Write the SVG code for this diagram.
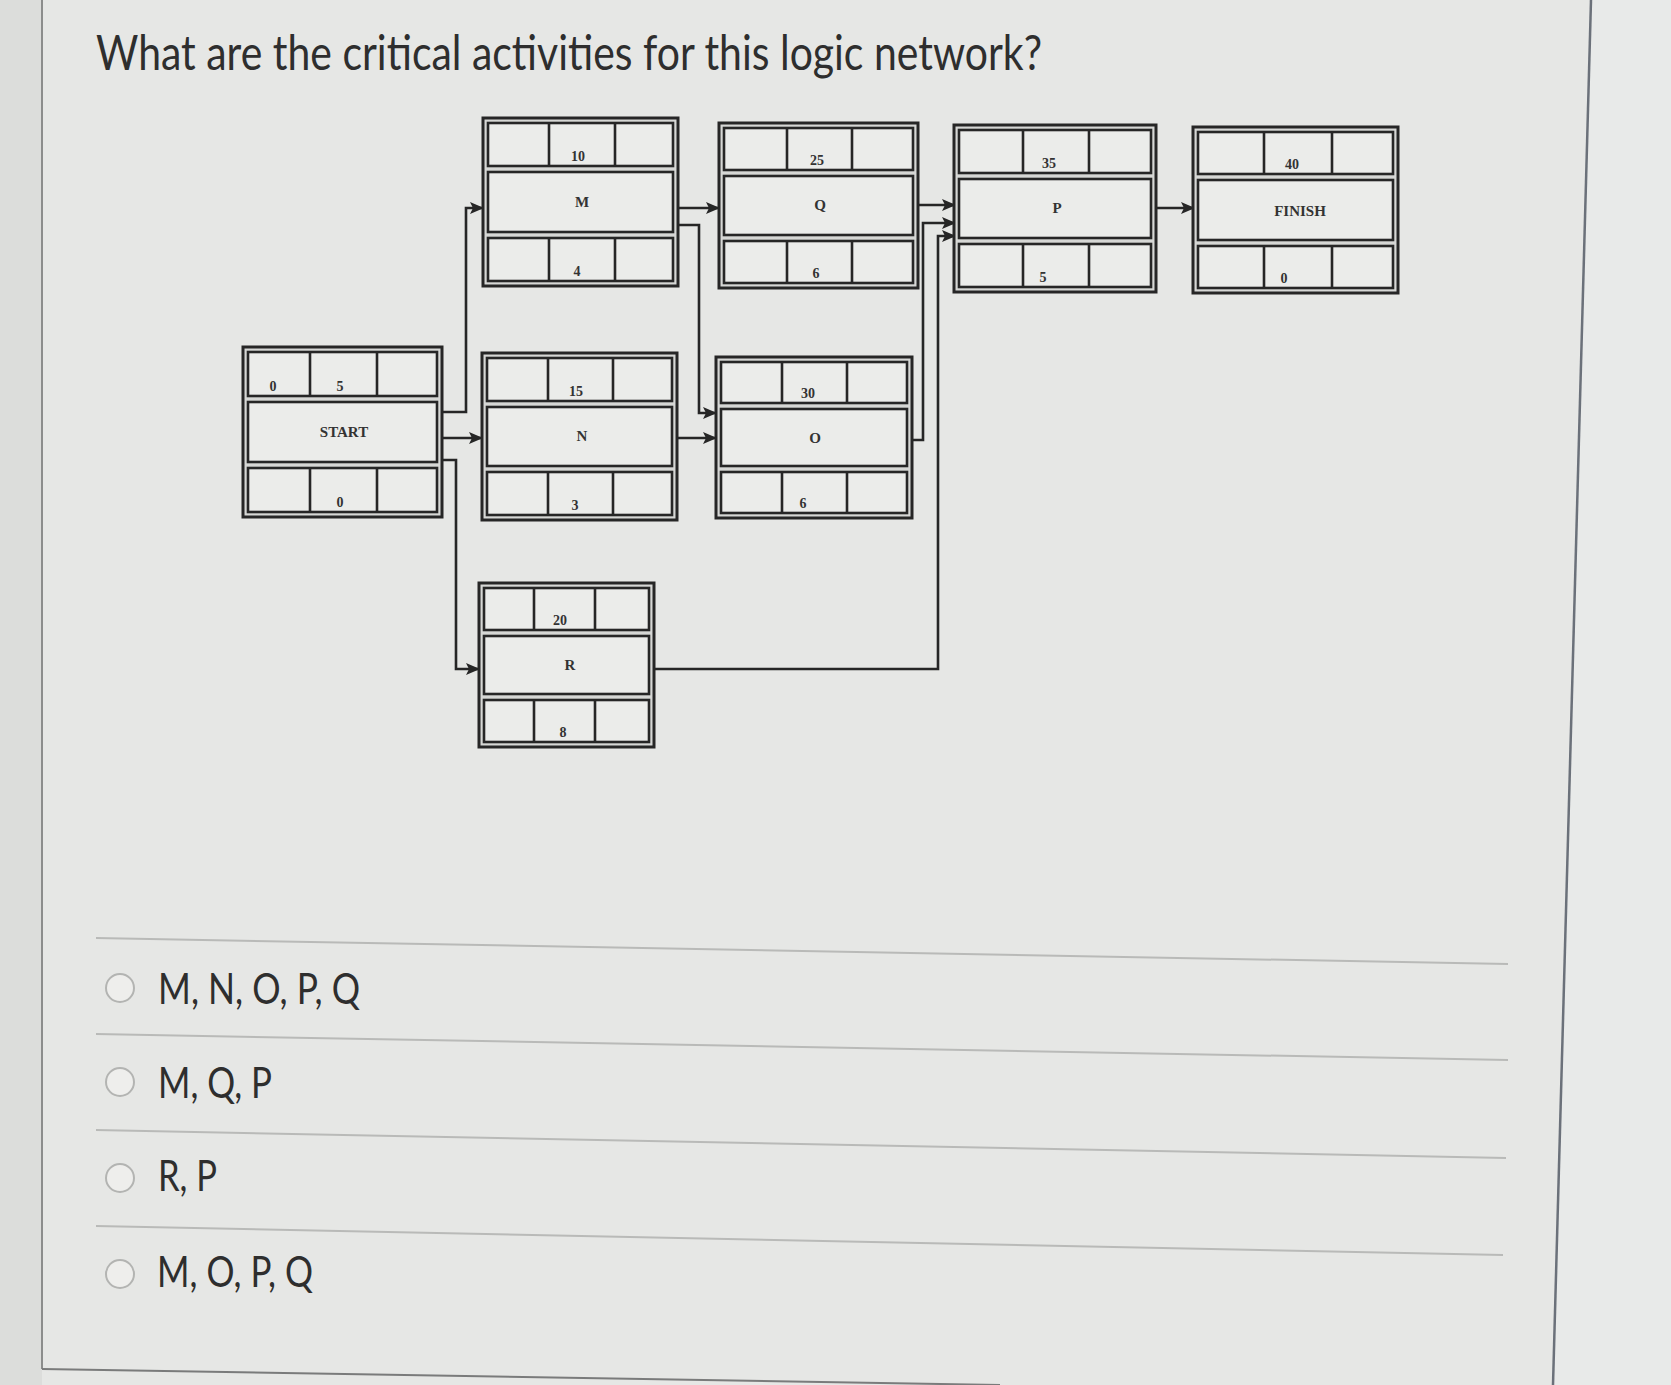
<svg xmlns="http://www.w3.org/2000/svg" width="1671" height="1385" viewBox="0 0 1671 1385">
<style>
.outer{fill:#d6d7d5;stroke:#262626;stroke-width:3}
.row{fill:#ebecea;stroke:#262626;stroke-width:2.6}
.div{stroke:#262626;stroke-width:2.6}
.num{font-family:"Liberation Serif",serif;font-weight:bold;font-size:14px;fill:#333;text-anchor:middle}
.lbl{font-family:"Liberation Serif",serif;font-weight:bold;font-size:15px;fill:#333;text-anchor:middle}
.conn{fill:none;stroke:#262626;stroke-width:2.6}
.opt{font-family:Lato,"Open Sans",sans-serif;font-size:42px;fill:#2e2e2e}
.sep{stroke:#b9bab8;stroke-width:2}
.radio{fill:#eeeeec;stroke:#b3b4b2;stroke-width:2}
</style>
<defs>
<marker id="arr" markerUnits="userSpaceOnUse" markerWidth="14" markerHeight="12" refX="13" refY="6" orient="auto">
<path d="M0,0 L14,6 L0,12 L3,6 Z" fill="#262626"/>
</marker>
</defs>
<rect x="0" y="0" width="1671" height="1385" fill="#e6e7e5"/>
<rect x="0" y="0" width="42" height="1385" fill="#dcdddb"/>
<polygon points="1591,0 1671,0 1671,1385 1553,1385" fill="#e8eae9"/>
<line x1="42" y1="0" x2="42" y2="1369" stroke="#8c8d8c" stroke-width="2"/>
<line x1="1591" y1="0" x2="1553" y2="1385" stroke="#6b717a" stroke-width="2.5"/>
<line x1="42" y1="1369" x2="1000" y2="1385" stroke="#7a7b7b" stroke-width="2"/>

<text x="96" y="70" font-family="Lato,'Open Sans',sans-serif" font-size="48" fill="#2e2e2e" textLength="946" lengthAdjust="spacingAndGlyphs">What are the critical activities for this logic network?</text>

<g id="connectors">
<path class="conn" d="M442,412 H466 V208 H483" marker-end="url(#arr)"/>
<path class="conn" d="M442,438 H482" marker-end="url(#arr)"/>
<path class="conn" d="M442,460 H456 V669 H479" marker-end="url(#arr)"/>
<path class="conn" d="M678,208 H719" marker-end="url(#arr)"/>
<path class="conn" d="M678,225 H699 V413 H716" marker-end="url(#arr)"/>
<path class="conn" d="M677,438 H716" marker-end="url(#arr)"/>
<path class="conn" d="M918,205 H955" marker-end="url(#arr)"/>
<path class="conn" d="M912,440 H923 V223 H955" marker-end="url(#arr)"/>
<path class="conn" d="M654,669 H938 V236 H955" marker-end="url(#arr)"/>
<path class="conn" d="M1156,208 H1194" marker-end="url(#arr)"/>
</g>

<g id="node-start">
<rect class="outer" x="243" y="347" width="199" height="170"/>
<rect class="row" x="248" y="352" width="189" height="44"/>
<rect class="row" x="248" y="402" width="189" height="60"/>
<rect class="row" x="248" y="468" width="189" height="44"/>
<line class="div" x1="310" y1="352" x2="310" y2="396"/><line class="div" x1="377" y1="352" x2="377" y2="396"/>
<line class="div" x1="310" y1="468" x2="310" y2="512"/><line class="div" x1="377" y1="468" x2="377" y2="512"/>
<text class="num" x="273" y="391">0</text>
<text class="num" x="340" y="391">5</text>
<text class="lbl" x="344" y="437">START</text>
<text class="num" x="340" y="507">0</text>
</g>

<g id="node-m">
<rect class="outer" x="483" y="118" width="195" height="168"/>
<rect class="row" x="488" y="123" width="185" height="43"/>
<rect class="row" x="488" y="172" width="185" height="60"/>
<rect class="row" x="488" y="238" width="185" height="43"/>
<line class="div" x1="549" y1="123" x2="549" y2="166"/><line class="div" x1="615" y1="123" x2="615" y2="166"/>
<line class="div" x1="549" y1="238" x2="549" y2="281"/><line class="div" x1="615" y1="238" x2="615" y2="281"/>
<text class="num" x="578" y="161">10</text>
<text class="lbl" x="582" y="207">M</text>
<text class="num" x="577" y="276">4</text>
</g>

<g id="node-n">
<rect class="outer" x="482" y="353" width="195" height="167"/>
<rect class="row" x="487" y="358" width="185" height="43"/>
<rect class="row" x="487" y="407" width="185" height="59"/>
<rect class="row" x="487" y="472" width="185" height="43"/>
<line class="div" x1="548" y1="358" x2="548" y2="401"/><line class="div" x1="613" y1="358" x2="613" y2="401"/>
<line class="div" x1="548" y1="472" x2="548" y2="515"/><line class="div" x1="613" y1="472" x2="613" y2="515"/>
<text class="num" x="576" y="396">15</text>
<text class="lbl" x="582" y="441">N</text>
<text class="num" x="575" y="510">3</text>
</g>

<g id="node-q">
<rect class="outer" x="719" y="123" width="199" height="165"/>
<rect class="row" x="724" y="128" width="189" height="42"/>
<rect class="row" x="724" y="176" width="189" height="59"/>
<rect class="row" x="724" y="241" width="189" height="42"/>
<line class="div" x1="787" y1="128" x2="787" y2="170"/><line class="div" x1="852" y1="128" x2="852" y2="170"/>
<line class="div" x1="787" y1="241" x2="787" y2="283"/><line class="div" x1="852" y1="241" x2="852" y2="283"/>
<text class="num" x="817" y="165">25</text>
<text class="lbl" x="820" y="210">Q</text>
<text class="num" x="816" y="278">6</text>
</g>

<g id="node-o">
<rect class="outer" x="716" y="357" width="196" height="161"/>
<rect class="row" x="721" y="362" width="186" height="41"/>
<rect class="row" x="721" y="409" width="186" height="57"/>
<rect class="row" x="721" y="472" width="186" height="41"/>
<line class="div" x1="782" y1="362" x2="782" y2="403"/><line class="div" x1="847" y1="362" x2="847" y2="403"/>
<line class="div" x1="782" y1="472" x2="782" y2="513"/><line class="div" x1="847" y1="472" x2="847" y2="513"/>
<text class="num" x="808" y="398">30</text>
<text class="lbl" x="815" y="443">O</text>
<text class="num" x="803" y="508">6</text>
</g>

<g id="node-p">
<rect class="outer" x="954" y="125" width="202" height="167"/>
<rect class="row" x="959" y="130" width="192" height="43"/>
<rect class="row" x="959" y="179" width="192" height="59"/>
<rect class="row" x="959" y="244" width="192" height="43"/>
<line class="div" x1="1023" y1="130" x2="1023" y2="173"/><line class="div" x1="1089" y1="130" x2="1089" y2="173"/>
<line class="div" x1="1023" y1="244" x2="1023" y2="287"/><line class="div" x1="1089" y1="244" x2="1089" y2="287"/>
<text class="num" x="1049" y="168">35</text>
<text class="lbl" x="1057" y="213">P</text>
<text class="num" x="1043" y="282">5</text>
</g>

<g id="node-finish">
<rect class="outer" x="1193" y="127" width="205" height="166"/>
<rect class="row" x="1198" y="132" width="195" height="42"/>
<rect class="row" x="1198" y="180" width="195" height="60"/>
<rect class="row" x="1198" y="246" width="195" height="42"/>
<line class="div" x1="1264" y1="132" x2="1264" y2="174"/><line class="div" x1="1332" y1="132" x2="1332" y2="174"/>
<line class="div" x1="1264" y1="246" x2="1264" y2="288"/><line class="div" x1="1332" y1="246" x2="1332" y2="288"/>
<text class="num" x="1292" y="169">40</text>
<text class="lbl" x="1300" y="216">FINISH</text>
<text class="num" x="1284" y="283">0</text>
</g>

<g id="node-r">
<rect class="outer" x="479" y="583" width="175" height="164"/>
<rect class="row" x="484" y="588" width="165" height="42"/>
<rect class="row" x="484" y="636" width="165" height="58"/>
<rect class="row" x="484" y="700" width="165" height="42"/>
<line class="div" x1="534" y1="588" x2="534" y2="630"/><line class="div" x1="595" y1="588" x2="595" y2="630"/>
<line class="div" x1="534" y1="700" x2="534" y2="742"/><line class="div" x1="595" y1="700" x2="595" y2="742"/>
<text class="num" x="560" y="625">20</text>
<text class="lbl" x="570" y="670">R</text>
<text class="num" x="563" y="737">8</text>
</g>

<g id="options">
<line class="sep" x1="96" y1="938" x2="1508" y2="964"/>
<line class="sep" x1="96" y1="1034" x2="1508" y2="1060"/>
<line class="sep" x1="96" y1="1130" x2="1506" y2="1158"/>
<line class="sep" x1="96" y1="1226" x2="1503" y2="1255"/>
<circle class="radio" cx="120" cy="988" r="14"/>
<circle class="radio" cx="120" cy="1082" r="14"/>
<circle class="radio" cx="120" cy="1178" r="14"/>
<circle class="radio" cx="120" cy="1274" r="14"/>
<text class="opt" x="158" y="1004" textLength="202" lengthAdjust="spacingAndGlyphs">M, N, O, P, Q</text>
<text class="opt" x="158" y="1098" textLength="114" lengthAdjust="spacingAndGlyphs">M, Q, P</text>
<text class="opt" x="158" y="1191" textLength="59" lengthAdjust="spacingAndGlyphs">R, P</text>
<text class="opt" x="157" y="1287" textLength="156" lengthAdjust="spacingAndGlyphs">M, O, P, Q</text>
</g>
</svg>
